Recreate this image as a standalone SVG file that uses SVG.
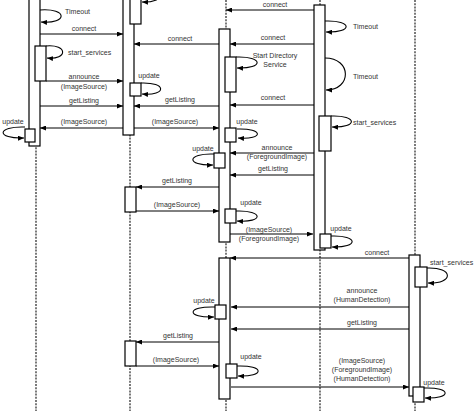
<svg xmlns="http://www.w3.org/2000/svg" width="474" height="411" viewBox="0 0 474 411">
<style>
.ll{stroke:#222;stroke-width:1.2;stroke-dasharray:2 1.2;fill:none}
.box{fill:#fff;stroke:#000;stroke-width:1.2}
.m{stroke:#000;stroke-width:1;fill:none;marker-end:url(#a)}
.lp{stroke:#000;stroke-width:1.1;fill:none;marker-end:url(#a)}
text{font-family:"Liberation Sans",Arial,sans-serif;font-size:7px;fill:#333}
.c{text-anchor:middle}
</style>
<defs>
<marker id="a" viewBox="0 0 6 5" refX="6" refY="2.5" markerWidth="6" markerHeight="5" orient="auto" markerUnits="userSpaceOnUse"><path d="M0,0 L6,2.5 L0,5 z" fill="#000"/></marker>
</defs>
<rect width="474" height="411" fill="#fff"/>
<g id="lifelines">
<line class="ll" x1="36" y1="0" x2="36" y2="411"/>
<line class="ll" x1="130" y1="0" x2="130" y2="411"/>
<line class="ll" x1="226" y1="0" x2="226" y2="411"/>
<line class="ll" x1="320" y1="0" x2="320" y2="411"/>
<line class="ll" x1="415" y1="0" x2="415" y2="411"/>
</g>
<g id="node-l1">
<rect class="box" x="29" y="-2" width="11" height="148"/>
<rect class="box" x="35" y="46" width="11" height="35"/>
<rect class="box" x="25" y="129" width="10" height="13"/>
</g>
<g id="node-l2">
<rect class="box" x="123" y="-2" width="11" height="137"/>
<rect class="box" x="130" y="-2" width="11" height="26"/>
<rect class="box" x="130" y="83" width="11" height="13"/>
<rect class="box" x="125" y="187" width="11" height="25"/>
<rect class="box" x="125" y="341" width="11" height="25"/>
</g>
<g id="node-l3">
<rect class="box" x="219" y="29" width="11" height="213"/>
<rect class="box" x="225" y="57" width="11" height="35"/>
<rect class="box" x="225" y="128" width="11" height="14"/>
<rect class="box" x="214" y="153" width="11" height="15"/>
<rect class="box" x="225" y="209" width="11" height="14"/>
<rect class="box" x="219" y="258" width="11" height="141"/>
<rect class="box" x="215" y="305" width="11" height="14"/>
<rect class="box" x="226" y="364" width="11" height="14"/>
</g>
<g id="node-l4">
<rect class="box" x="314" y="5" width="11" height="245"/>
<rect class="box" x="319" y="116" width="12" height="35"/>
<rect class="box" x="320" y="234" width="11" height="14"/>
</g>
<g id="node-l5">
<rect class="box" x="409" y="255" width="11" height="141"/>
<rect class="box" x="415" y="267" width="12" height="20"/>
<rect class="box" x="413" y="387" width="11" height="15"/>
</g>
<g id="connectors">
<line class="m" x1="314" y1="10" x2="226" y2="10"/>
<line class="m" x1="40" y1="34" x2="123" y2="34"/>
<line class="m" x1="219" y1="44" x2="134" y2="44"/>
<line class="m" x1="314" y1="44" x2="230" y2="44"/>
<line class="m" x1="46" y1="81" x2="123" y2="81"/>
<line class="m" x1="40" y1="106" x2="123" y2="106"/>
<line class="m" x1="219" y1="106" x2="134" y2="106"/>
<line class="m" x1="314" y1="105" x2="230" y2="105"/>
<line class="m" x1="123" y1="128" x2="40" y2="128"/>
<line class="m" x1="134" y1="128" x2="219" y2="128"/>
<line class="m" x1="314" y1="153" x2="230" y2="153"/>
<line class="m" x1="314" y1="175" x2="230" y2="175"/>
<line class="m" x1="219" y1="187" x2="136" y2="187"/>
<line class="m" x1="136" y1="211" x2="219" y2="211"/>
<line class="m" x1="230" y1="234" x2="313" y2="234"/>
<line class="m" x1="409" y1="258" x2="230" y2="258"/>
<line class="m" x1="409" y1="307" x2="231" y2="307"/>
<line class="m" x1="409" y1="329" x2="231" y2="329"/>
<line class="m" x1="219" y1="342" x2="136" y2="342"/>
<line class="m" x1="136" y1="366" x2="219" y2="366"/>
<line class="m" x1="231" y1="387" x2="409" y2="387"/>
<path class="lp" d="M40,10 C68,8 68,24 41,22"/>
<path class="lp" d="M46,46 C68,44 68,60 47,58"/>
<path class="lp" d="M141,-12 C166,-12 166,3 142,2"/>
<path class="lp" d="M141,83 C167,82 167,96 142,94"/>
<path class="lp" d="M236,57 C264,56 264,69 237,68"/>
<path class="lp" d="M237,129 C264,128 264,140 238,138"/>
<path class="lp" d="M214,154 C186,153 186,166 213,165"/>
<path class="lp" d="M236,211 C264,210 264,223 237,221"/>
<path class="lp" d="M325,21 C353,20 353,33 326,32"/>
<path class="lp" d="M325,58 C352,58 352,90 326,90"/>
<path class="lp" d="M331,116 C358,115 358,128 332,127"/>
<path class="lp" d="M331,236 C359,235 359,248 332,247"/>
<path class="lp" d="M427,268 C454,267 454,284 428,283"/>
<path class="lp" d="M215,307 C186,306 186,318 214,317"/>
<path class="lp" d="M237,366 C265,365 265,377 238,376"/>
<path class="lp" d="M424,388 C452,387 452,399 425,398"/>
<path class="lp" d="M25,127 C-4,126 -4,139 24,138"/>
</g>
<g id="labels">
<text x="65" y="14">Timeout</text>
<text class="c" x="84" y="31">connect</text>
<text x="68" y="55">start_services</text>
<text class="c" x="84" y="79">announce</text>
<text class="c" x="84" y="89">(ImageSource)</text>
<text class="c" x="84" y="103">getListing</text>
<text class="c" x="84" y="124">(ImageSource)</text>
<text class="c" x="13" y="124">update</text>
<text class="c" x="149" y="78">update</text>
<text class="c" x="180" y="41">connect</text>
<text class="c" x="180" y="102">getListing</text>
<text class="c" x="175" y="124">(ImageSource)</text>
<text class="c" x="275" y="7">connect</text>
<text class="c" x="273" y="40">connect</text>
<text class="c" x="275" y="58">Start Directory</text>
<text class="c" x="275" y="67">Service</text>
<text class="c" x="273" y="100">connect</text>
<text class="c" x="247" y="124">update</text>
<text class="c" x="203" y="151">update</text>
<text class="c" x="277" y="150">announce</text>
<text class="c" x="277" y="159">(ForegroundImage)</text>
<text class="c" x="273" y="171">getListing</text>
<text class="c" x="177" y="183">getListing</text>
<text class="c" x="177" y="207">(ImageSource)</text>
<text class="c" x="251" y="205">update</text>
<text class="c" x="269" y="232">(ImageSource)</text>
<text class="c" x="269" y="241">(ForegroundImage)</text>
<text x="353" y="29">Timeout</text>
<text x="353" y="79">Timeout</text>
<text x="353" y="125">start_services</text>
<text class="c" x="341" y="231">update</text>
<text class="c" x="377" y="255">connect</text>
<text x="430" y="265">start_services</text>
<text class="c" x="362" y="293">announce</text>
<text class="c" x="362" y="302">(HumanDetection)</text>
<text class="c" x="362" y="325">getListing</text>
<text class="c" x="204" y="303">update</text>
<text class="c" x="178" y="338">getListing</text>
<text class="c" x="176" y="362">(ImageSource)</text>
<text class="c" x="251" y="359">update</text>
<text class="c" x="362" y="363">(ImageSource)</text>
<text class="c" x="362" y="372">(ForegroundImage)</text>
<text class="c" x="362" y="381">(HumanDetection)</text>
<text class="c" x="434" y="385">update</text>
</g>
</svg>
